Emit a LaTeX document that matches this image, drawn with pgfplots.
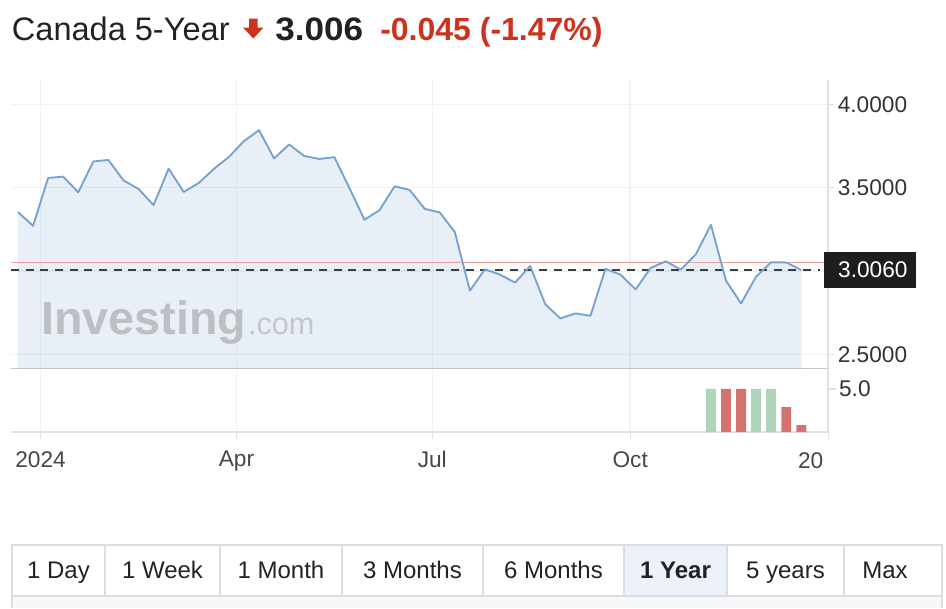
\documentclass[border=0pt]{standalone}
\usepackage{pgfplots}
\pgfplotsset{compat=1.18}
\usepackage{pgfplotstable}
\usepackage{fontspec}
\setmainfont{Liberation Sans}
\usepackage{graphicx}

\definecolor{linec}{RGB}{118,162,208}
\definecolor{gridc}{RGB}{240,241,243}
\definecolor{axc}{RGB}{222,225,232}
\definecolor{sepc}{RGB}{200,200,200}
\definecolor{txt}{RGB}{34,34,34}
\definecolor{tick}{RGB}{51,51,51}
\definecolor{xtick}{RGB}{70,70,70}
\definecolor{redt}{RGB}{204,50,30}
\definecolor{upg}{RGB}{174,213,185}
\definecolor{dnr}{RGB}{210,115,112}
\definecolor{prevc}{RGB}{234,160,150}
\definecolor{dashc}{RGB}{58,61,66}
\definecolor{boxc}{RGB}{30,30,30}
\definecolor{wm}{RGB}{189,191,194}
\definecolor{wm2}{RGB}{196,198,201}
\definecolor{btnb}{RGB}{220,221,224}
\definecolor{selc}{RGB}{237,242,250}
\definecolor{stripc}{RGB}{247,248,249}

% weekly yields, x = days since 1 Jan 2024
\pgfplotstableread{
d v
-10.5 3.353
-3.5 3.271
3.5 3.558
10.5 3.566
17.5 3.472
24.5 3.657
31.5 3.666
38.5 3.544
45.5 3.492
52.5 3.395
59.5 3.614
66.5 3.474
73.5 3.528
80.5 3.612
87.5 3.684
94.5 3.779
101.5 3.845
108.5 3.675
115.5 3.759
122.5 3.690
129.5 3.672
136.5 3.683
143.5 3.498
150.5 3.307
157.5 3.365
164.5 3.508
171.5 3.486
178.5 3.373
185.5 3.351
192.5 3.233
199.5 2.882
206.5 3.010
213.5 2.978
220.5 2.930
227.5 3.030
234.5 2.801
241.5 2.715
248.5 2.745
255.5 2.731
262.5 3.012
269.5 2.978
276.5 2.889
283.5 3.018
290.5 3.058
297.5 3.008
304.5 3.100
311.5 3.277
318.5 2.942
325.5 2.805
332.5 2.966
339.5 3.052
346.5 3.051
353.5 3.006
}\yields

\pgfplotstableread{
d vol
311.5 5
332.5 5
339.5 5
}\volup
\pgfplotstableread{
d vol
318.5 5
325.5 5
346.5 2.9
353.5 0.8
}\voldn

\begin{document}
\begin{tikzpicture}
\path[use as bounding box] (0,0) rectangle (709.5pt,-456pt);

% ---------- main panel ----------
\begin{axis}[
  name=main,
  at={(8.25pt,-276.5pt)}, anchor=south west,
  scale only axis, width=612.9pt, height=216.5pt,
  xmin=-13.75, xmax=366, ymin=2.4136, ymax=4.1458,
  axis x line*=bottom, axis y line*=right,
  x axis line style={draw=sepc, line width=1.2pt},
  y axis line style={draw=axc, line width=1.1pt},
  xtick={0,91,182,274,366}, xticklabels={}, 
  x tick style={draw=none},
  ytick={2.5,3,3.5,4}, yticklabels={2.5000,,3.5000,4.0000},
  y tick style={draw=axc, line width=0.9pt},
  tick align=outside, major tick length=4.5pt,
  grid=major, major grid style={draw=gridc, line width=1.1pt},
  yticklabel style={font=\fontsize{17pt}{17pt}\selectfont, text=tick, anchor=west, inner sep=0pt, xshift=2.5pt},
  clip mode=individual,
]
\addplot[draw=none, fill=linec, fill opacity=0.17] table[x=d,y=v]{\yields} \closedcycle;
\node[anchor=base west, inner sep=0pt, text=wm, font=\fontsize{35pt}{35pt}\selectfont\bfseries] (inv) at (axis cs:0.2,2.62) {Investing};
\node[anchor=base west, inner sep=0pt, text=wm2, font=\fontsize{23pt}{23pt}\selectfont] at ([xshift=1pt]inv.base east) {.com};
\draw[prevc, line width=0.75pt] (axis cs:-13.75,3.051) -- (axis cs:366,3.051);
\draw[dashc, line width=1.5pt, dash pattern=on 6pt off 5pt] (axis cs:-13.75,3.006) -- (axis cs:362,3.006);
\addplot[draw=linec, line width=1.4pt, line join=round, mark=none] table[x=d,y=v]{\yields};
\coordinate (pr) at (axis cs:366,3.006);
\end{axis}

\fill[boxc] ([xshift=-3pt,yshift=-13.25pt]pr) rectangle ([xshift=65.7pt,yshift=13.25pt]pr);
\node[anchor=west, inner sep=0pt, text=white, font=\fontsize{17pt}{17pt}\selectfont] at ([xshift=7.3pt]pr) {3.0060};

% ---------- volume panel ----------
\begin{axis}[
  at={(8.25pt,-324pt)}, anchor=south west,
  scale only axis, width=612.9pt, height=47.5pt,
  xmin=-13.75, xmax=366, ymin=0, ymax=7.36,
  axis x line*=bottom, axis y line*=right,
  x axis line style={draw=axc, line width=1.2pt},
  y axis line style={draw=axc, line width=1.1pt},
  xtick={0,91,182,274,366}, xticklabels={2024,Apr,Jul,Oct,},
  ytick={5}, yticklabels={5.0},
  tick style={draw=axc, line width=0.9pt},
  tick align=outside, major tick length=5.5pt,
  xmajorgrids, major grid style={draw=gridc, line width=1.1pt},
  yticklabel style={font=\fontsize{17pt}{17pt}\selectfont, text=tick, anchor=west, inner sep=0pt, xshift=2.5pt},
  xticklabel style={font=\fontsize{17pt}{17pt}\selectfont, text=xtick, anchor=north, inner sep=0pt, yshift=-8.75pt},
  clip mode=individual,
]
\addplot[ybar, bar width=4.6, bar shift=0pt, fill=upg, draw=none] table[x=d,y=vol]{\volup};
\addplot[ybar, bar width=4.6, bar shift=0pt, fill=dnr, draw=none] table[x=d,y=vol]{\voldn};
\coordinate (yr) at (axis cs:366,0);
\end{axis}
\node[anchor=north east, inner sep=0pt, text=xtick, font=\fontsize{17pt}{17pt}\selectfont] at ([xshift=-3.5pt,yshift=-15pt]yr) {20};

% ---------- header and buttons (pixel coordinates) ----------
\begin{scope}[x=0.75pt,y=-0.75pt]
\node[anchor=base west, inner sep=0pt, text=txt, font=\fontsize{24.4pt}{24.4pt}\selectfont] at (11.7,40) {Canada 5-Year};
\fill[redt] (249,18.5) -- (257.5,18.5) -- (257.5,27.5) -- (263.5,27.5) -- (253.3,38.5) -- (243,27.5) -- (249,27.5) -- cycle;
\node[anchor=base west, inner sep=0pt, text=txt, font=\fontsize{24.4pt}{24.4pt}\selectfont\bfseries] at (275,40) {\scalebox{1.08}[1]{3.006}};
\node[anchor=base west, inner sep=0pt, text=redt, font=\fontsize{24pt}{24pt}\selectfont\bfseries] at (380,40) {-0.045 (-1.47\%)};

\fill[selc] (624,545) rectangle (727,596);
\fill[stripc] (12,596) rectangle (942,608);
\draw[btnb, line width=1.1pt] (12,608) -- (12,545) -- (942,545) -- (942,608);
\draw[btnb, line width=1.1pt] (12,596) -- (942,596);
\foreach \xx in {105,220,342,483,624,727,844} \draw[btnb, line width=1.1pt] (\xx,545) -- (\xx,596);
\begin{scope}[every node/.style={text=txt, font=\fontsize{18pt}{18pt}\selectfont, inner sep=0pt, anchor=base}]
\node at (58.5,578) {1 Day};
\node at (162.5,578) {1 Week};
\node at (281,578) {1 Month};
\node at (412.5,578) {3 Months};
\node at (553.5,578) {6 Months};
\node[font=\fontsize{18pt}{18pt}\selectfont\bfseries] at (675.5,578) {1 Year};
\node at (785.5,578) {5 years};
\node at (885,578) {Max};
\end{scope}
\end{scope}
\end{tikzpicture}
\end{document}
